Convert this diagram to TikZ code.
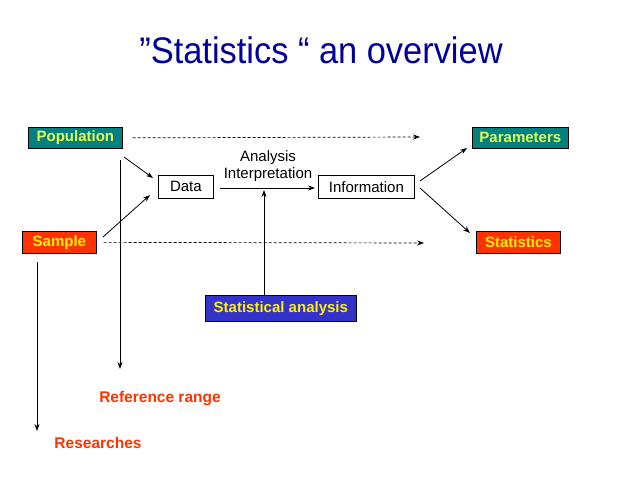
\documentclass[tikz,border=0pt]{standalone}
\usepackage{fontspec}
\setmainfont{Liberation Sans}
\usetikzlibrary{arrows.meta}
\begin{document}
\begin{tikzpicture}[x=1pt,y=-1pt,
  cbox/.style={draw=black,line width=0.7pt,font=\bfseries\fontsize{15}{17}\selectfont,inner sep=0pt,anchor=north west},
  wbox/.style={draw=black,line width=0.7pt,font=\fontsize{15}{17}\selectfont,inner sep=0pt,anchor=north west},
  arr/.style={-{Stealth[length=7pt,width=5pt]},line width=0.8pt},
  dot/.style={-{Stealth[length=7pt,width=5pt]},line width=0.7pt,densely dashed}]
\useasboundingbox (0,0) rectangle (638,479);
\node[font=\fontsize{37}{42}\selectfont,text=blue!60!black] (title) at (321,50) {\scalebox{0.93}[1]{"Statistics “ an overview}};
\definecolor{tealc}{RGB}{0,128,128}
\definecolor{redc}{RGB}{255,51,0}
\definecolor{bluec}{RGB}{51,51,204}
\definecolor{yel}{RGB}{230,255,80}
\node[cbox,fill=tealc,text=yel,minimum width=94,minimum height=21] (pop) at (28,127) {Population};
\node[cbox,fill=tealc,text=yel,minimum width=96,minimum height=21] (par) at (472,127) {Parameters};
\node[cbox,fill=redc,text=yellow,minimum width=74,minimum height=22] (sam) at (22,231) {Sample};
\node[cbox,fill=redc,text=yellow,minimum width=84,minimum height=22] (sta) at (476,231) {Statistics};
\node[cbox,fill=bluec,text=yellow,minimum width=151,minimum height=26] (san) at (205,295) {Statistical analysis};
\node[wbox,minimum width=55,minimum height=23] (data) at (158,175) {Data};
\node[wbox,minimum width=96,minimum height=23] (info) at (318,175) {Information};
\node[font=\fontsize{15}{17}\selectfont,align=center] (lab) at (268,166) {Analysis\\Interpretation};
\coordinate (pe) at (420,137);
\coordinate (se) at (424,243);
\draw[dot] ([xshift=10]pop.east) -- (pe);
\draw[dot] ([xshift=7]sam.east) -- (se);
\draw[arr] (124,157) -- (153,178);
\draw[arr] (103,237) -- (150,195);
\draw[arr] (220,188) -- (315,188);
\draw[arr] (264,295) -- (264,190);
\draw[arr] (420,181) -- (467,148);
\draw[arr] (420,188) -- (470,233);
\node[font=\bfseries\fontsize{15.5}{17}\selectfont,text=redc] (ref) at (160,399) {Reference range};
\node[font=\bfseries\fontsize{15.5}{17}\selectfont,text=redc] (res) at (98,443) {Researches};
\draw[arr] (120,160) -- (120,369);
\draw[arr] (37,262) -- (37,431);
\end{tikzpicture}
\end{document}
